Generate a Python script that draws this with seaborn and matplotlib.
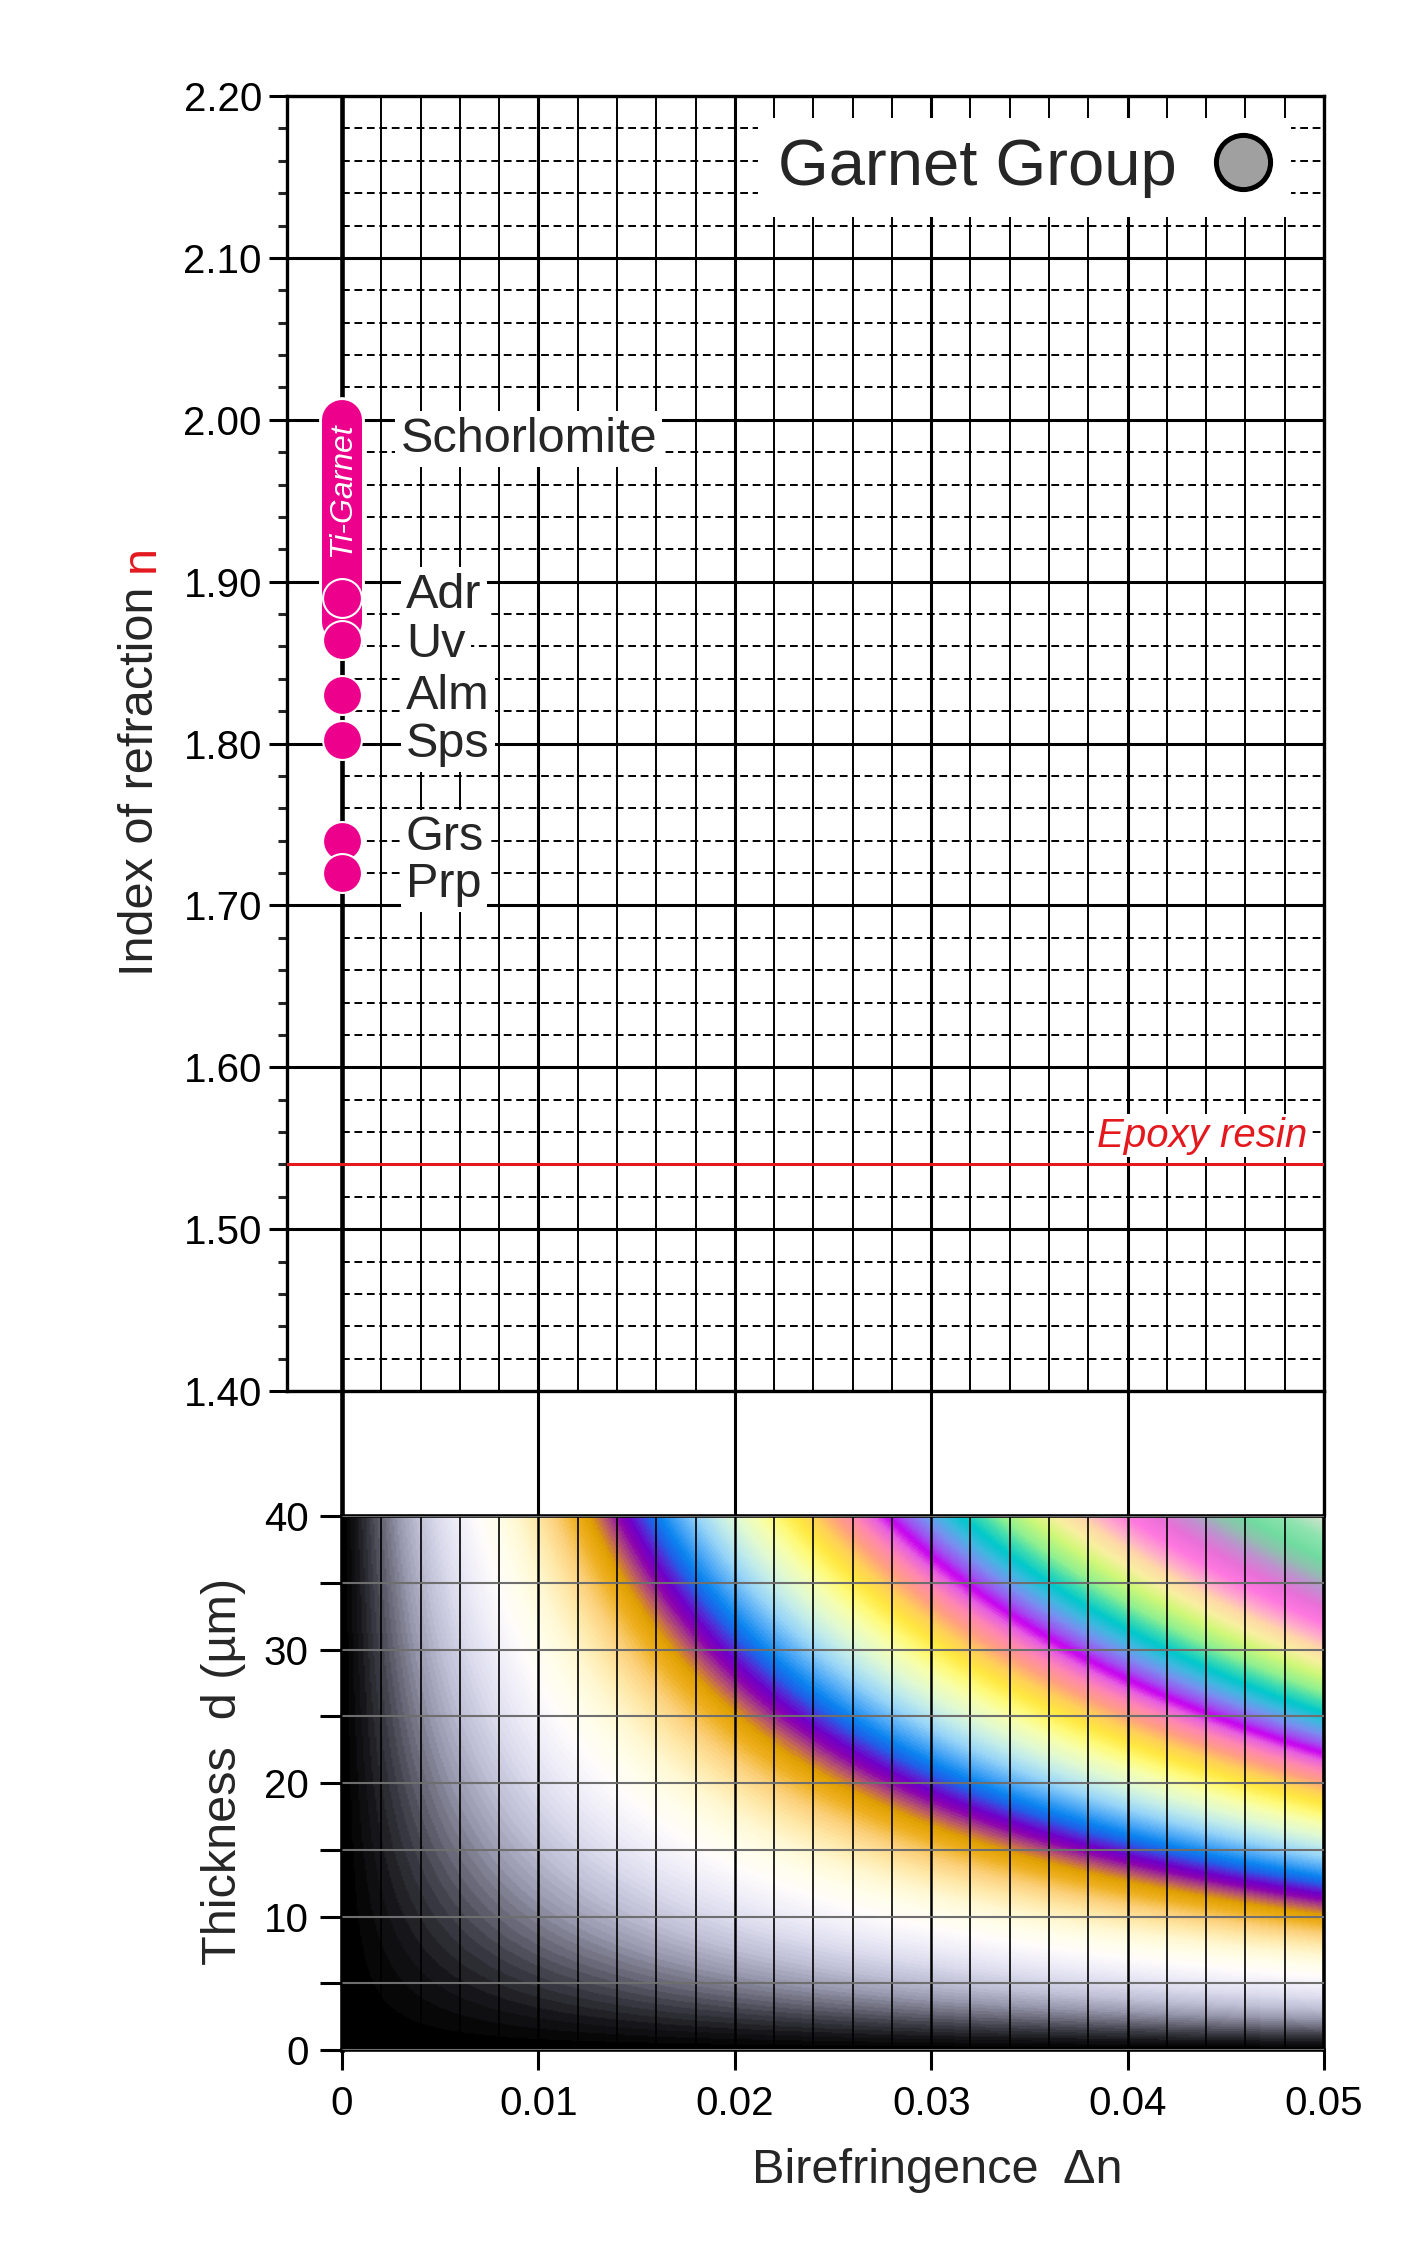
import numpy as np
import pandas as pd
import seaborn as sns
import matplotlib.pyplot as plt
import matplotlib.patheffects as pe
from matplotlib.colors import LinearSegmentedColormap
from matplotlib.lines import Line2D
from matplotlib.ticker import FixedLocator, MultipleLocator

# garnet end-members (isotropic -> birefringence 0)
garnet_names = ['Adr', 'Uv', 'Alm', 'Sps', 'Grs', 'Prp']
garnet_n = [1.890, 1.864, 1.830, 1.802, 1.740, 1.720]
garnet_dn = [0, 0, 0, 0, 0, 0]

ti_garnet_label = 'Ti-Garnet'
ti_garnet_member = 'Schorlomite'
ti_garnet_n = [1.875, 2.00]

epoxy_n = 1.54

n_ticks = [1.40, 1.50, 1.60, 1.70, 1.80, 1.90, 2.00, 2.10, 2.20]
n_ticklabels = ['1.40', '1.50', '1.60', '1.70', '1.80', '1.90', '2.00', '2.10', '2.20']
dn_ticks = [0, 0.01, 0.02, 0.03, 0.04, 0.05]
dn_ticklabels = ['0', '0.01', '0.02', '0.03', '0.04', '0.05']
d_ticks = [0, 10, 20, 30, 40]

# interference colours read along the retardation (nm)
retardation_nm = [0, 25, 50, 80, 110, 150, 190, 230, 270, 310, 350, 390, 430, 470, 500,
                  525, 545, 560, 580, 600, 620, 645, 680, 720, 760, 800, 840, 880, 920,
                  960, 1000, 1040, 1080, 1110, 1140, 1180, 1220, 1260, 1300, 1340,
                  1400, 1450, 1500, 1540, 1600, 1660, 1720, 1780, 1840, 1920, 2000]
interference_colors = ['#000000', '#18181c', '#3c3c46', '#6c6c7c', '#9898ae', '#c0c0d6',
                       '#dcdcee', '#f0eef8', '#fffcfc', '#fffeea', '#fff8d2', '#ffe8a8',
                       '#fcd07a', '#eeb020', '#e0a000', '#c06060', '#a03090', '#8c00b0',
                       '#7000c8', '#5030d8', '#2060e8', '#0a84f0', '#50aaf6', '#96d4f8',
                       '#c2ecea', '#e2fad0', '#f6ffb0', '#fffa78', '#ffe840', '#ffd058',
                       '#ffa080', '#ff88b0', '#e860e0', '#c800f0', '#a050f0', '#7890f0',
                       '#40b8e0', '#00c8cc', '#40dcb0', '#90f090', '#d0f878', '#f8f0a0',
                       '#ffd8a8', '#ffb0c8', '#ff78e0', '#e870d8', '#c090d0', '#90c0b0',
                       '#70dca0', '#90e4b0', '#d8e2d0']

PINK = '#ec008c'
RED = '#e3191e'

sns.set_theme(style='white')
plt.rcParams['font.family'] = ['Liberation Sans', 'DejaVu Sans']

fig = plt.figure(figsize=(14.17, 22.44), dpi=100)
ax = fig.add_axes([0.20254, 0.38012, 0.73183, 0.57709])
gap = fig.add_axes([0.20254, 0.32442, 0.73183, 0.0557])
ax2 = fig.add_axes([0.24136, 0.08645, 0.69301, 0.23797])

# ---------------- top panel: refractive index ----------------
ax.set_xlim(-0.0028, 0.05)
ax.set_ylim(1.40, 2.20)
ax.set_xticks(dn_ticks)
ax.set_xticklabels([])
ax.xaxis.set_minor_locator(FixedLocator([k / 1000 for k in range(0, 51, 2)]))
ax.tick_params(axis='x', which='both', length=0)
ax.grid(True, axis='x', which='major', color='black', lw=2.2)
ax.grid(True, axis='x', which='minor', color='black', lw=1.4)

minor_n = [k / 100 for k in range(142, 220, 2) if k % 10]
ax.set_yticks(n_ticks)
ax.set_yticklabels(n_ticklabels)
ax.yaxis.set_minor_locator(FixedLocator(minor_n))
ax.tick_params(axis='y', which='major', left=True, length=13, width=2.2,
               labelsize=29, pad=5, colors='black')
ax.tick_params(axis='y', which='minor', left=True, length=6.5, width=2.2)
ax.grid(True, axis='y', which='major', color='black', lw=2.2)
ax.hlines(minor_n, 0, 0.05, colors='black', lw=1.4, linestyles=(0, (4, 2.4)), zorder=0.6)
ax.axvline(0, color='black', lw=3.3, zorder=0.7)
for s in ax.spines.values():
    s.set_color('black')
    s.set_linewidth(2.4)

# epoxy resin reference line
ax.axhline(epoxy_n, color=RED, lw=2.2, zorder=3)
ax.annotate('Epoxy resin', xy=(0.9836, epoxy_n), xycoords=('axes fraction', 'data'),
            xytext=(0, 7), textcoords='offset points', ha='right', va='bottom',
            color=RED, fontsize=29, style='italic', zorder=4,
            bbox=dict(fc='white', ec='none', pad=2))

# Ti-garnet range
ax.plot([0, 0], ti_garnet_n, color=PINK, lw=28.8, solid_capstyle='round', zorder=4,
        path_effects=[pe.Stroke(linewidth=33, foreground='white'), pe.Normal()])
ax.annotate(ti_garnet_label, xy=(0, ti_garnet_n[1]), xytext=(0, -50),
            textcoords='offset points', rotation=90, ha='center', va='center',
            color='white', fontsize=23, style='italic', zorder=6)
ax.annotate(ti_garnet_member, xy=(0, ti_garnet_n[1]), xytext=(42, -14),
            textcoords='offset points', ha='left', va='center', fontsize=35, zorder=6,
            bbox=dict(fc='white', ec='none', pad=4))

df = pd.DataFrame({'mineral': garnet_names, 'n': garnet_n, 'dn': garnet_dn})
sns.scatterplot(data=df, x='dn', y='n', ax=ax, s=784, color=PINK, edgecolor='white',
                linewidth=1.5, zorder=5, legend=False)
label_offsets = {'Adr': 2, 'Uv': -3, 'Alm': -1, 'Sps': -3, 'Grs': 2, 'Prp': -8}
for name, n in zip(garnet_names, garnet_n):
    ax.annotate(name, xy=(0, n), xytext=(46, label_offsets[name]),
                textcoords='offset points', ha='left', va='center', fontsize=35,
                zorder=6, bbox=dict(fc='white', ec='none', pad=4))
ax.set_xlabel('')
ax.set_ylabel('')

handle = Line2D([], [], ls='none', marker='o', ms=39, mfc='#a0a0a0', mec='black', mew=3.6)
ax.legend(handles=[handle], labels=['Garnet Group'], loc='upper right',
          bbox_to_anchor=(0.968, 0.983), markerfirst=False, frameon=True,
          fancybox=False, framealpha=1, edgecolor='none', facecolor='white',
          fontsize=47, handlelength=0.85, handletextpad=0.6, borderpad=0.3,
          borderaxespad=0)

t1 = ax.text(-0.1408, 0.471, 'Index of refraction', transform=ax.transAxes,
             rotation=90, ha='center', va='center', fontsize=35)
ax.annotate('n', xy=(0.5, 1), xycoords=t1, xytext=(0, 10), textcoords='offset points',
            rotation=90, ha='center', va='bottom', fontsize=35, color=RED)

# ---------------- gap between panels ----------------
gap.set_xlim(-0.0028, 0.05)
gap.set_ylim(0, 1)
gap.set_xticks(dn_ticks)
gap.set_yticks([])
gap.tick_params(length=0, labelbottom=False, labelleft=False)
gap.grid(True, axis='x', color='black', lw=2.2)
gap.axvline(0, color='black', lw=3.3)
gap.axvline(0.05, color='black', lw=2.4, clip_on=False)
for s in gap.spines.values():
    s.set_visible(False)
gap.patch.set_alpha(0)

# ---------------- bottom panel: interference colours ----------------
cmap = LinearSegmentedColormap.from_list(
    'michel_levy', list(zip(np.array(retardation_nm) / retardation_nm[-1], interference_colors)))
dn_grid = np.linspace(0, 0.05, 600)
d_grid = np.linspace(0, 40, 480)
retard = np.outer(d_grid, dn_grid) * 1000
ax2.imshow(retard, cmap=cmap, vmin=0, vmax=retardation_nm[-1], extent=(0, 0.05, 0, 40),
           origin='lower', aspect='auto', interpolation='bilinear', zorder=0)
ax2.set_xlim(0, 0.05)
ax2.set_ylim(0, 40)
ax2.set_axisbelow(False)
ax2.set_xticks(dn_ticks)
ax2.set_xticklabels(dn_ticklabels)
ax2.xaxis.set_minor_locator(MultipleLocator(0.002))
ax2.set_yticks(d_ticks)
ax2.yaxis.set_minor_locator(MultipleLocator(5))
ax2.tick_params(axis='x', which='major', bottom=True, length=14.4, width=2.2,
                labelsize=29, pad=11, colors='black')
ax2.tick_params(axis='x', which='minor', length=0)
ax2.tick_params(axis='y', which='both', left=True, length=16, width=2.2,
                labelsize=29, pad=8, colors='black')
ax2.grid(True, axis='x', which='major', color='black', lw=1.8)
ax2.grid(True, axis='x', which='minor', color='black', lw=1.2)
ax2.grid(True, axis='y', which='both', color='#6e6e6e', lw=1.5)
for s in ax2.spines.values():
    s.set_color('black')
    s.set_linewidth(2.6)
ax2.spines['left'].set_linewidth(3.3)

ax2.set_xlabel('Birefringence  Δn', fontsize=35)
ax2.xaxis.set_label_coords(0.606, -0.1835)
ax2.set_ylabel('Thickness  d (µm)', fontsize=35)
ax2.yaxis.set_label_coords(-0.0978, 0.522)

fig.savefig('out.png', dpi=100, facecolor='white')
